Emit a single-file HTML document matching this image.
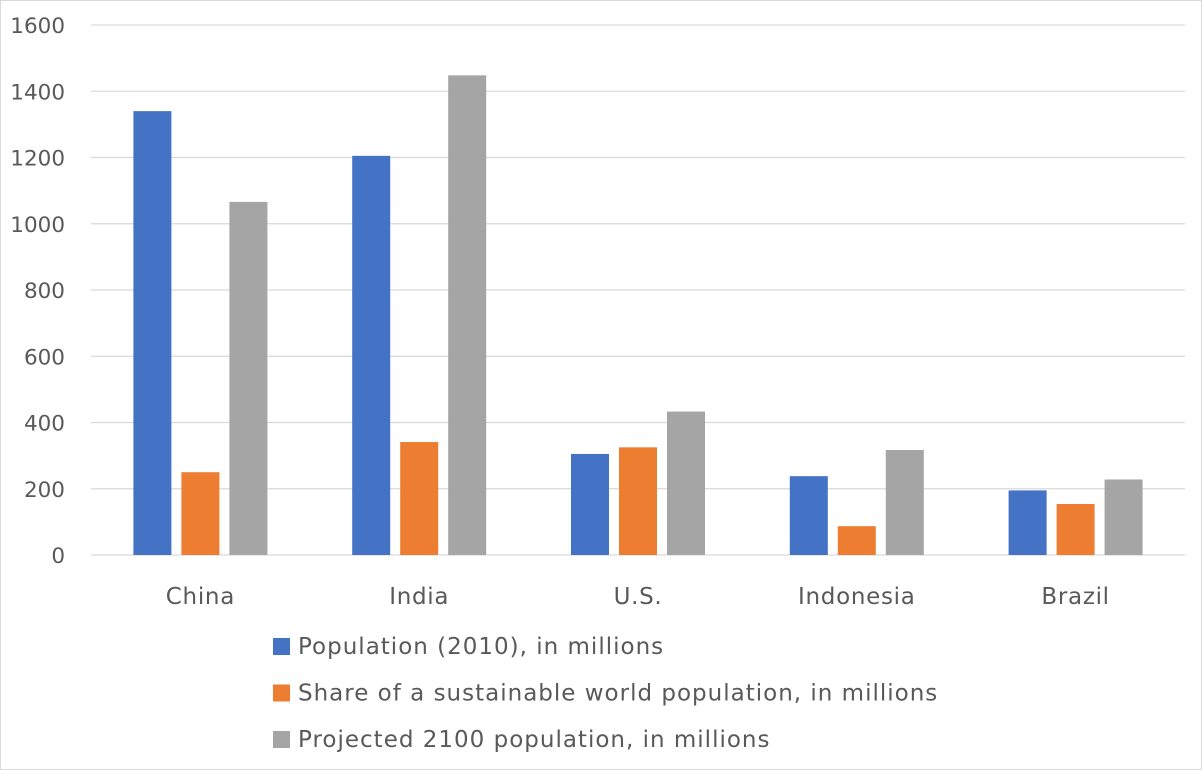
<!DOCTYPE html>
<html><head><meta charset="utf-8"><style>
html,body{margin:0;padding:0;background:#fff;}
svg{display:block;font-family:"DejaVu Sans","Liberation Sans",sans-serif;}
</style></head><body>
<svg id="chart" width="1202" height="770">
<rect x="0.5" y="0.5" width="1201" height="769" fill="#fff" stroke="#d9d9d9"/>
<g id="grid"></g><g id="bars"></g><g id="xl"></g><g id="legend"></g>
</svg>
<script>
const categories=["China","India","U.S.","Indonesia","Brazil"];
const pop2010=[1340,1205,305,238,195];
const sustainable=[250,341,325,87,154];
const proj2100=[1066,1448,433,317,228];
const yTicks=[0,200,400,600,800,1000,1200,1400,1600];
const seriesNames=["Population (2010), in millions","Share of a sustainable world population, in millions","Projected 2100 population, in millions"];
const colors=["#4472c4","#ed7d31","#a5a5a5"];
const series=[pop2010,sustainable,proj2100];
const NS="http://www.w3.org/2000/svg";
const y0=555,y1=25,ymax=1600,xL=91,xR=1185;
const y=v=>y0-(v/ymax)*(y0-y1);
const band=(xR-xL)/categories.length;
const xc=i=>xL+band*(i+0.5);
function mk(t,a,p){const e=document.createElementNS(NS,t);for(const k in a)e.setAttribute(k,a[k]);p.appendChild(e);return e;}
const G=document.getElementById('grid');
yTicks.forEach(t=>{
 const l=mk('line',{x1:xL,x2:xR,y1:y(t),y2:y(t),stroke:'#d9d9d9','stroke-width':1.3},G);
 
 
 const tx=mk('text',{x:65,y:y(t)+8,'text-anchor':'end','font-size':21.5,fill:'#595959'},G);
 tx.textContent=t;
 
 
});
const B=document.getElementById('bars');
const bw=38,gap=10;
series.forEach((s,si)=>{
 s.forEach((v,i)=>{
  const x=xc(i)+(si-1)*(bw+gap)-bw/2;
  const r=mk('rect',{x:x,y:y(v),width:bw,height:y0-y(v),fill:colors[si]},B);
  
  
 });
});
const X=document.getElementById('xl');
categories.forEach((c,i)=>{
 const t=mk('text',{x:xc(i),y:604,'text-anchor':'middle','font-size':23,'letter-spacing':0.7,fill:'#595959'},X);
 t.textContent=c;
 
 
});
const L=document.getElementById('legend');
seriesNames.forEach((n,i)=>{
 const yy=646+i*46.5;
 const r=mk('rect',{x:273,y:yy-8,width:17,height:17,fill:colors[i]},L);
 
 
 const t=mk('text',{x:298,y:yy+8,'font-size':23,'letter-spacing':1,fill:'#595959'},L);
 t.textContent=n;
 
 
});
</script>
</body></html>
